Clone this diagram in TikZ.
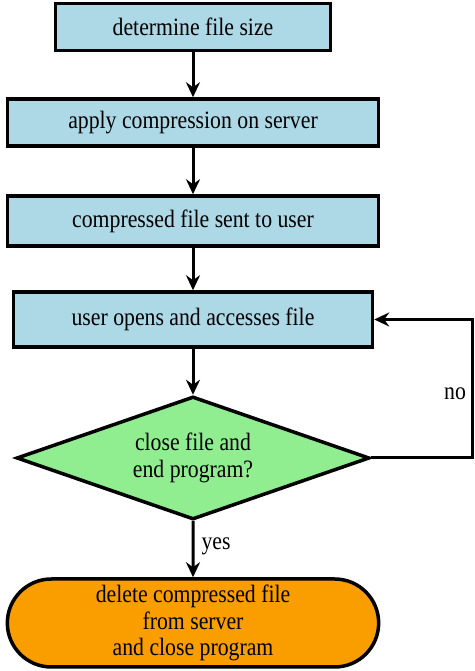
\documentclass[tikz,border=0pt]{standalone}
\usepackage{fontspec}
\setmainfont[FakeStretch=0.87]{Liberation Serif}
\usetikzlibrary{shapes.geometric,shapes.misc,arrows.meta}
\definecolor{StepBlue}{RGB}{173, 216, 230}
\definecolor{TestGreen}{RGB}{144, 238, 144}
\definecolor{EndOrange}{RGB}{250, 158, 0}
\tikzstyle{process} = [rectangle, minimum height=47pt, text centered, draw=black, fill=StepBlue, line width=3.5pt]
\tikzstyle{decision} = [diamond, aspect=2.9, minimum width=353pt, minimum height=123pt, align=center, draw=black, fill=TestGreen, line width=3.5pt]
\tikzstyle{terminal} = [rounded rectangle, minimum width=378pt, minimum height=88pt, align=center, draw=black, fill=EndOrange, line width=3.5pt]
\tikzstyle{arrow} = [line width=3pt,-{Stealth[length=15pt,width=14pt,inset=5pt]}]

\begin{document}
\begin{tikzpicture}[x=1pt, y=1pt, every node/.style={font=\fontsize{25}{26.5}\selectfont}]
\useasboundingbox (0,0) rectangle (474,671);

% Etapes
\node (filesize) [process, minimum width=275pt] at (193,644) {determine file size};
\node (compress) [process, minimum width=371pt] at (193,548.5) {apply compression on server};
\node (send) [process, minimum width=371pt, minimum height=50pt] at (193,450) {compressed file sent to user};
\node (access) [process, minimum width=359pt, minimum height=55pt] at (193,351.5) {user opens and accesses file};
\node (check) [decision] at (193,213) {close file and\\end program?};
\node (finish) [terminal] at (193,48) {delete compressed file\\from server\\and close program};

% Relations
\coordinate (noturn) at (472,213);
\draw [arrow] (filesize) -- (compress);
\draw [arrow] (compress) -- (send);
\draw [arrow] (send) -- (access);
\draw [arrow] (access) -- (check);
\draw [arrow] (check) -- (finish);
\draw [arrow] (check.east) -- (noturn) |- (access.east);

% Labels des relations
\node (nolabel) at (455,277) {no};
\node (yeslabel) at (216,125) {yes};

\end{tikzpicture}
\end{document}
